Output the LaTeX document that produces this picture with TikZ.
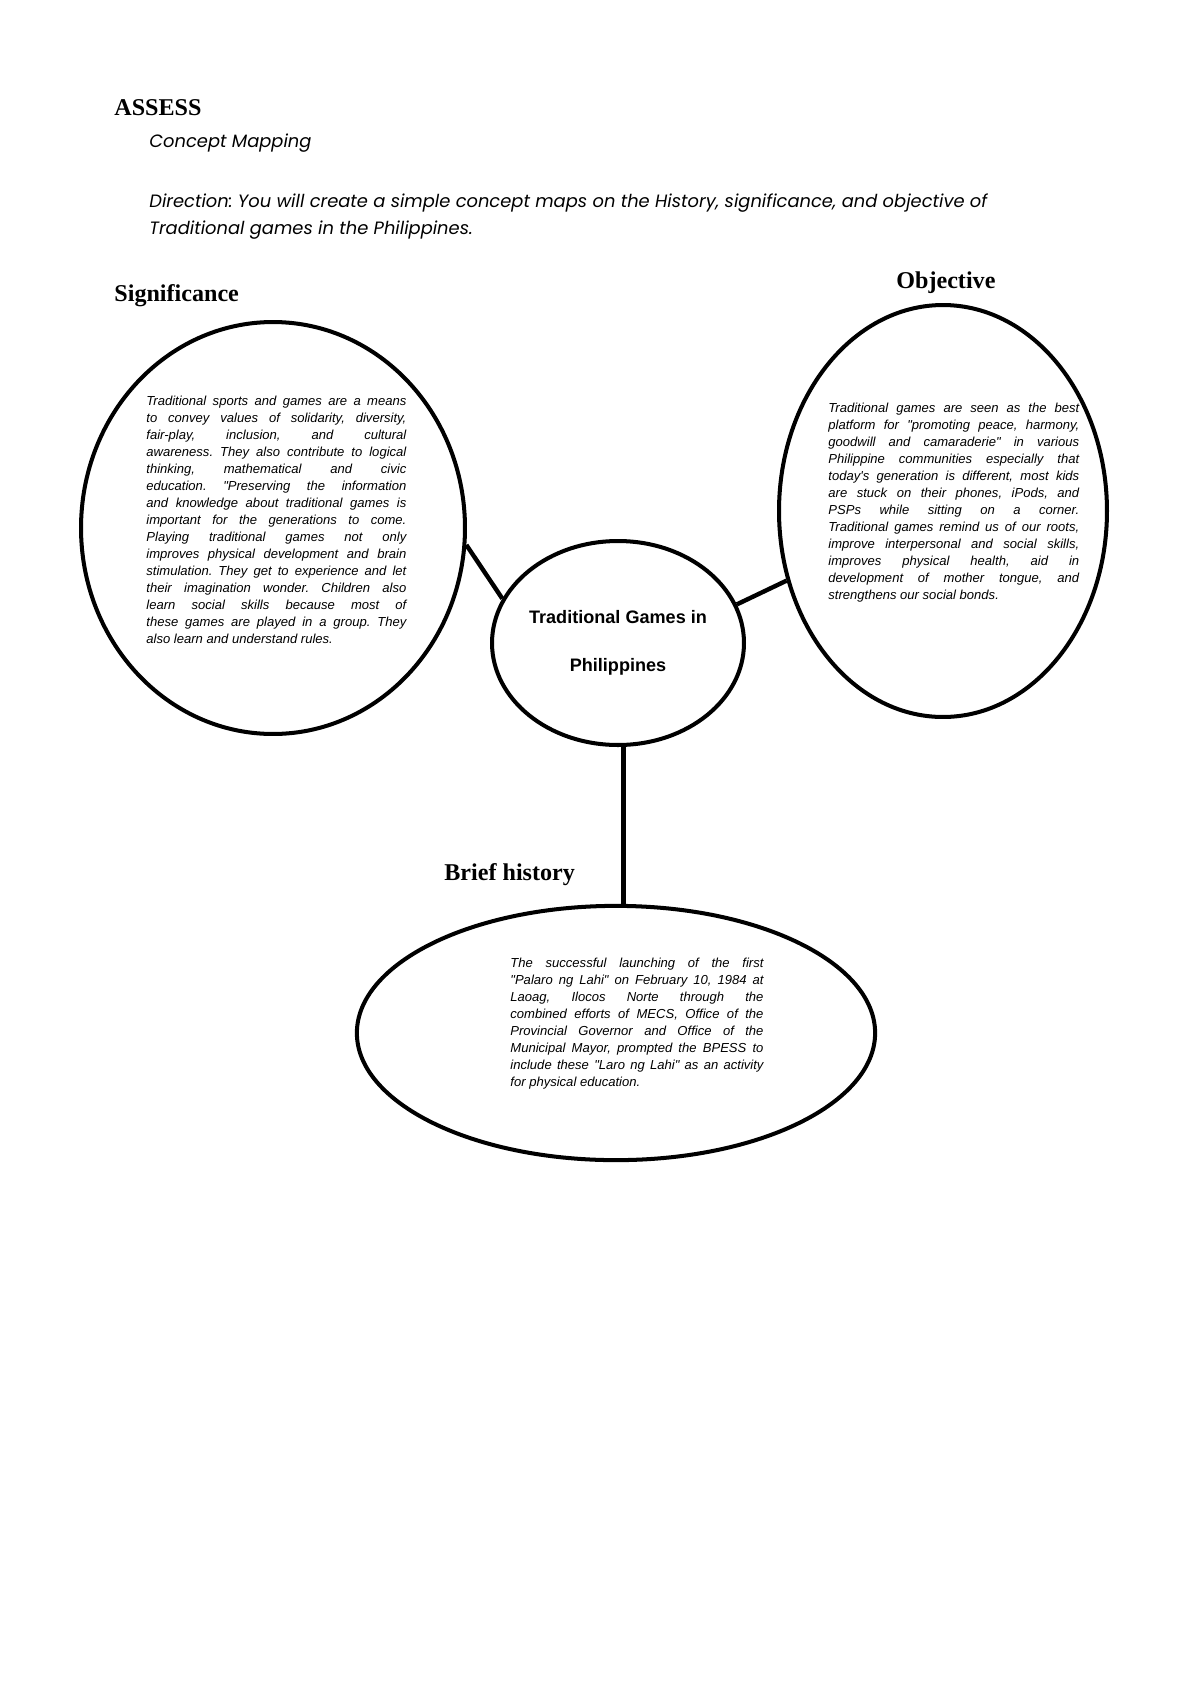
\documentclass[tikz,border=0pt]{standalone}
\usepackage{fontspec}
\setmainfont{Liberation Serif}
\newfontfamily\popfont{Poppins}
\newfontfamily\bodyfont{Liberation Sans}
\usetikzlibrary{shapes.geometric, positioning}
\frenchspacing

\begin{document}
\begin{tikzpicture}[
  x=0.0175cm, y=-0.0175cm,
  bubble/.style = {
    ellipse, draw=black, line width=2pt,
    inner sep=0pt, fill=none
  },
  link/.style = {line width=2.2pt, black},
  heading/.style = {anchor=base west, inner sep=0pt,
    font=\bfseries\fontsize{12}{14}\selectfont},
  intro/.style = {anchor=base west, inner sep=0pt,
    font=\popfont\itshape\fontsize{8.9}{13}\selectfont},
  bodytext/.style = {
    anchor=north west, inner sep=0pt, align=justify,
    font=\bodyfont\itshape\fontsize{6.5}{8.45}\selectfont
  }
]
\useasboundingbox (0,0) rectangle (1200,1697);

% Page heading
\node[heading] (assess) at (114,115) {ASSESS};
\node[intro] (mapping) at (149,147) {Concept Mapping};
\node[intro] (dir1) at (149,207) {Direction: You will create a simple concept maps on the History, significance, and objective of};
\node[intro] (dir2) at (149,234) {Traditional games in the Philippines.};

% Bubbles
\node[bubble, minimum width=4.41cm, minimum height=3.57cm,
      align=center, font=\bodyfont\bfseries\fontsize{9}{24}\selectfont]
      (hub) at (618,643) {Traditional Games in\\Philippines};
\node[bubble, minimum width=6.72cm, minimum height=7.21cm] (sig) at (273,528) {};
\node[bubble, minimum width=5.74cm, minimum height=7.21cm] (obj) at (943,511) {};
\node[bubble, minimum width=9.07cm, minimum height=4.45cm] (hist) at (616,1033) {};

% Titles
\node[heading] (sigtitle)  at (114,301) {Significance};
\node[heading] (objtitle)  at (896,288) {Objective};
\node[heading] (histtitle) at (444,880) {Brief history};

% Texts
\node[bodytext, text width=4.55cm] (sigtext) at (146,396) {Traditional sports and games are a means\linebreak
to convey values of solidarity, diversity,\linebreak
fair-play, inclusion, and cultural\linebreak
awareness. They also contribute to logical\linebreak
thinking, mathematical and civic\linebreak
education. "Preserving the information\linebreak
and knowledge about traditional games is\linebreak
important for the generations to come.\linebreak
Playing traditional games not only\linebreak
improves physical development and brain\linebreak
stimulation. They get to experience and let\linebreak
their imagination wonder. Children also\linebreak
learn social skills because most of\linebreak
these games are played in a group. They\linebreak
also learn and understand rules.};

\node[bodytext, text width=4.39cm] (objtext) at (828,403) {Traditional games are seen as the best\linebreak
platform for "promoting peace, harmony,\linebreak
goodwill and camaraderie" in various\linebreak
Philippine communities especially that\linebreak
today's generation is different, most kids\linebreak
are stuck on their phones, iPods, and\linebreak
PSPs while sitting on a corner.\linebreak
Traditional games remind us of our roots,\linebreak
improve interpersonal and social skills,\linebreak
improves physical health, aid in\linebreak
development of mother tongue, and\linebreak
strengthens our social bonds.};

\node[bodytext, text width=4.43cm] (histtext) at (510,958) {The successful launching of the first\linebreak
"Palaro ng Lahi" on February 10, 1984 at\linebreak
Laoag, Ilocos Norte through the\linebreak
combined efforts of MECS, Office of the\linebreak
Provincial Governor and Office of the\linebreak
Municipal Mayor, prompted the BPESS to\linebreak
include these "Laro ng Lahi" as an activity\linebreak
for physical education.};

% Connectors
\draw[link] (sig.-5) -- (hub.159);
\draw[link] (hub.18) -- (obj.204);
\draw[link] (hub.-87) -- (hub.-87 |- hist.north);
\end{tikzpicture}
\end{document}
